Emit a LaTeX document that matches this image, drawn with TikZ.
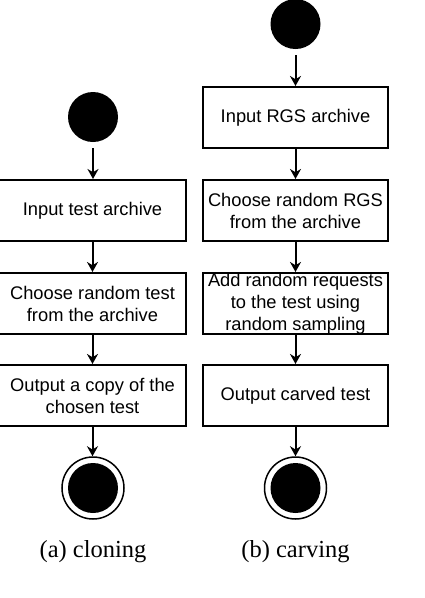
\documentclass[tikz,border=0pt]{standalone}
\usepackage{fontspec}
\setmainfont{Liberation Serif}
\setsansfont{Liberation Sans}
\usetikzlibrary{arrows.meta}

\begin{document}
\begin{tikzpicture}[x=1pt,y=-1pt,line width=2pt,
act/.style={draw,rectangle,minimum height=61pt,inner sep=0pt,align=center,
 font=\sffamily\fontsize{18.3}{22}\selectfont},
actl/.style={act,minimum width=187pt},
actr/.style={act,minimum width=185pt},
startnode/.style={circle,fill,minimum size=50pt,inner sep=0pt,outer sep=6pt},
endnode/.style={circle,draw,line width=1.5pt,minimum size=62pt,inner sep=0pt,
 path picture={\fill (path picture bounding box.center) circle (25pt);}},
flow/.style={-{Stealth[length=10pt,width=11pt]}},
caption/.style={font=\fontsize{24.5}{28}\selectfont}]

\useasboundingbox (0,0) rectangle (424,598);

%(a) cloning
\node[startnode] (sa) at (93,117) {};
\node[actl] (a1) at (92.5,210.5) {Input test archive};
\node[actl] (a2) at (92.5,303.5) {Choose random test\\from the archive};
\node[actl] (a3) at (92.5,395.5) {Output a copy of the\\chosen test};
\node[endnode] (ea) at (93,488) {};
\node[caption] (ca) at (93,552) {(a) cloning};

%(b) carving
\node[startnode] (sb) at (295.5,24) {};
\node[actr] (b1) at (295.5,117.5) {Input RGS archive};
\node[actr] (b2) at (295.5,210.5) {Choose random RGS\\from the archive};
\node[actr] (b3) at (295.5,303.5) {Add random requests\\to the test using\\random sampling};
\node[actr] (b4) at (295.5,395.5) {Output carved test};
\node[endnode] (eb) at (295.5,488) {};
\node[caption] (cb) at (295.5,552) {(b) carving};

% fleches (verticales)
\foreach \u/\v in {sa/a1,a1/a2,a2/a3,a3/ea,sb/b1,b1/b2,b2/b3,b3/b4,b4/eb}
{\draw[flow] (\u)--(\u|-\v.north);}

\end{tikzpicture}
\end{document}
